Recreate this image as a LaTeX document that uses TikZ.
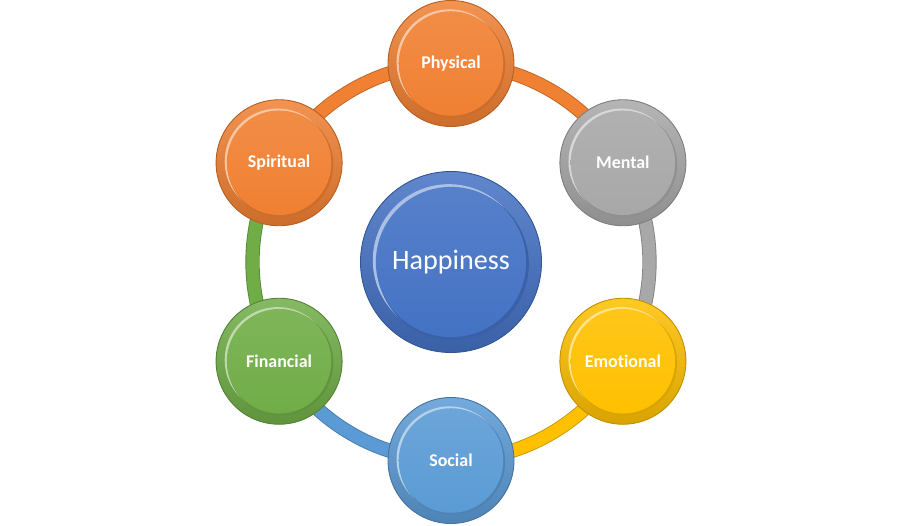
\documentclass[tikz,border=0pt]{standalone}
\usepackage{fontspec}
\setmainfont{Carlito}[Ligatures=NoCommon]
\usepackage{xcolor}
\usetikzlibrary{backgrounds}

\definecolor{hubblue}{RGB}{68,114,196}
\definecolor{physorange}{RGB}{240,128,50}
\definecolor{mentalgray}{RGB}{168,168,168}
\definecolor{emoyellow}{RGB}{255,192,0}
\definecolor{socialblue}{RGB}{91,155,213}
\definecolor{fingreen}{RGB}{112,173,71}

\tikzset{
  bevel/.style 2 args={circle,inner sep=0pt,minimum size=#2,text=white,
    fill=#1,draw=#1!75!black,line width=0.5pt,
    path picture={
      \shade[top color=#1!85!white,bottom color=#1!85!black]
        (path picture bounding box.center) circle (0.5*#2);
      \fill[#1!45!white] ([shift={(-0.012*#2,0.01*#2)}]path picture bounding box.center) circle (0.42*#2);
      \fill[#1!85!black] ([shift={(0.01*#2,-0.012*#2)}]path picture bounding box.center) circle (0.42*#2);
      \shade[top color=#1!90!white,bottom color=#1]
        (path picture bounding box.center) circle (0.415*#2);
    }},
  petal/.style={bevel={#1}{2.52cm},font=\fontsize{10.2}{12}\selectfont\bfseries},
  hub/.style={bevel={hubblue}{3.62cm},font=\fontsize{16}{19}\selectfont},
  hoop/.style={draw=#1!78!black,line width=0.5pt,double=#1,double distance=0.25cm}
}

\begin{document}
\begin{tikzpicture}
\useasboundingbox (0,0) rectangle (17.98,10.5);
\node[hub] (happy) at (9.02,5.26) {Happiness};
\node[petal=physorange] (phys) at ([shift={(90:3.97)}]happy.center) {Physical};
\node[petal=mentalgray] (mental) at ([shift={(30:3.97)}]happy.center) {Mental};
\node[petal=emoyellow] (emo) at ([shift={(-30:3.97)}]happy.center) {Emotional};
\node[petal=socialblue] (social) at ([shift={(-90:3.97)}]happy.center) {Social};
\node[petal=fingreen] (fin) at ([shift={(210:3.97)}]happy.center) {Financial};
\node[petal=physorange] (spirit) at ([shift={(150:3.97)}]happy.center) {Spiritual};
% ring segments behind the circles
\begin{scope}[on background layer]
\draw[hoop=physorange] (phys.center) arc[start angle=90,end angle=30,radius=3.97cm];
\draw[hoop=mentalgray] (mental.center) arc[start angle=30,end angle=-30,radius=3.97cm];
\draw[hoop=emoyellow] (emo.center) arc[start angle=-30,end angle=-90,radius=3.97cm];
\draw[hoop=socialblue] (social.center) arc[start angle=-90,end angle=-150,radius=3.97cm];
\draw[hoop=fingreen] (fin.center) arc[start angle=210,end angle=150,radius=3.97cm];
\draw[hoop=physorange] (spirit.center) arc[start angle=150,end angle=90,radius=3.97cm];
\end{scope}
\end{tikzpicture}
\end{document}
